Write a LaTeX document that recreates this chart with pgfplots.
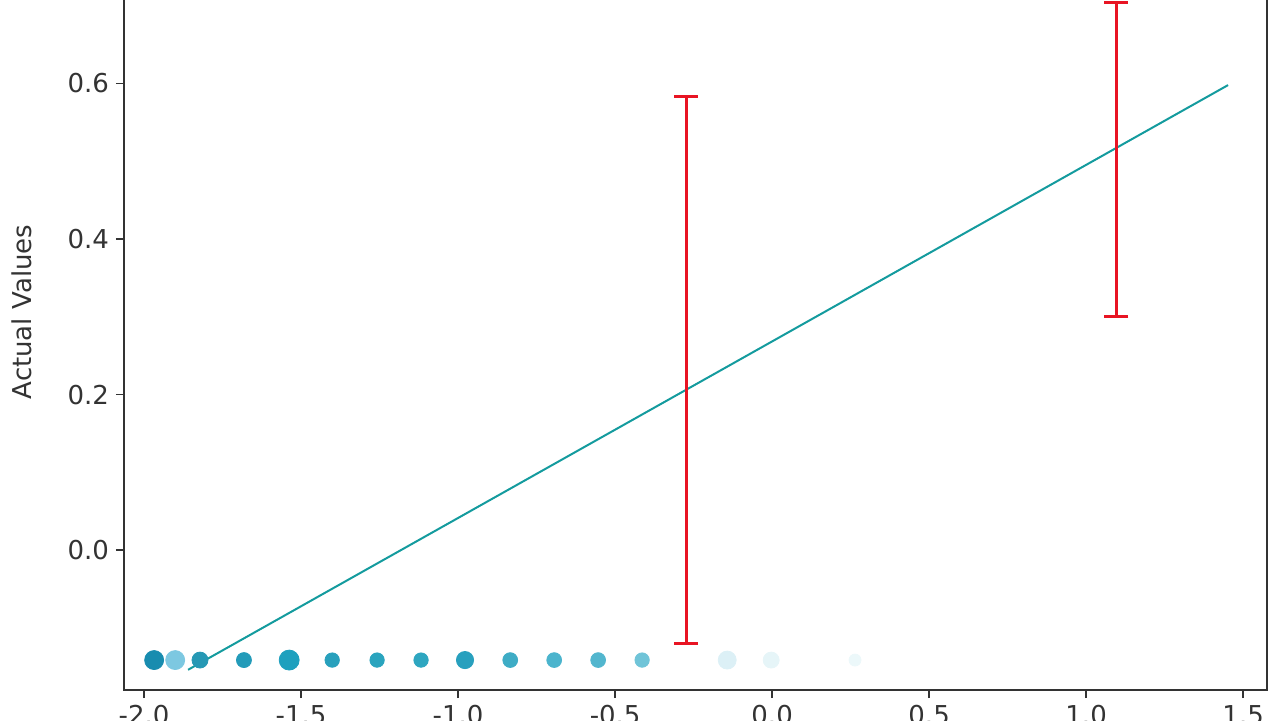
\documentclass[border=0pt]{standalone}
\usepackage{pgfplots}
\pgfplotsset{compat=1.18}
\usepackage{fontspec}
\setmainfont{DejaVu Sans}
\definecolor{axgray}{RGB}{51,51,51}
\definecolor{tealline}{RGB}{20,155,158}
\definecolor{errred}{RGB}{232,20,35}
\definecolor{pa}{RGB}{24,140,175}
\definecolor{pb}{RGB}{125,200,225}
\definecolor{pc}{RGB}{38,152,180}
\definecolor{pd}{RGB}{35,155,185}
\definecolor{pe}{RGB}{30,160,190}
\definecolor{pf}{RGB}{40,160,188}
\definecolor{pg}{RGB}{42,164,190}
\definecolor{ph}{RGB}{46,166,192}
\definecolor{pi}{RGB}{40,160,190}
\definecolor{pj}{RGB}{62,172,197}
\definecolor{pk}{RGB}{75,180,205}
\definecolor{pl}{RGB}{82,182,206}
\definecolor{pm}{RGB}{112,196,216}
\definecolor{pn}{RGB}{220,240,246}
\definecolor{po}{RGB}{230,245,248}
\definecolor{pp}{RGB}{236,248,250}
\pgfplotsset{pt/.style 2 args={only marks, mark=*, mark size=#2, mark options={draw=#1, fill=#1}, forget plot}}
\begin{document}
\begin{tikzpicture}[font=\fontsize{13}{15}\selectfont]
\begin{axis}[
  scale only axis, width=571.5pt, height=378pt,
  xmin=-2.064, xmax=1.576, ymin=-0.180, ymax=0.7923,
  xtick={-2,-1.5,-1,-0.5,0,0.5,1,1.5},
  ytick={0,0.2,0.4,0.6},
  xtick pos=bottom, ytick pos=left,
  tick align=outside, major tick length=4pt,
  axis line style={axgray, line width=0.8pt},
  tick style={axgray, line width=0.8pt},
  ticklabel style={text=axgray},
  /pgf/number format/.cd, fixed, fixed zerofill, precision=1, assume math mode=true,
  /pgfplots/.cd,
  ylabel={Actual Values},
  every axis y label/.style={at={(axis description cs:-0.0892,0.5)}, rotate=90, anchor=center, text=axgray},
  clip=false,
]
\coordinate (SW) at (rel axis cs:0,0);
\addplot[pt={pa}{4.75pt}] coordinates {(-1.968,-0.1415)};
\addplot[pt={pb}{4.75pt}] coordinates {(-1.901,-0.1415)};
\addplot[pt={pc}{4.0pt}] coordinates {(-1.822,-0.1415)};
\addplot[pt={pd}{3.75pt}] coordinates {(-1.682,-0.1415)};
\addplot[pt={pe}{5.0pt}] coordinates {(-1.538,-0.1415)};
\addplot[pt={pf}{3.6pt}] coordinates {(-1.401,-0.1415)};
\addplot[pt={pg}{3.6pt}] coordinates {(-1.258,-0.1415)};
\addplot[pt={ph}{3.6pt}] coordinates {(-1.118,-0.1415)};
\addplot[pt={pi}{4.3pt}] coordinates {(-0.978,-0.1415)};
\addplot[pt={pj}{3.7pt}] coordinates {(-0.834,-0.1415)};
\addplot[pt={pk}{3.7pt}] coordinates {(-0.694,-0.1415)};
\addplot[pt={pl}{3.7pt}] coordinates {(-0.554,-0.1415)};
\addplot[pt={pm}{3.6pt}] coordinates {(-0.414,-0.1415)};
\addplot[pt={pn}{4.5pt}] coordinates {(-0.143,-0.1415)};
\addplot[pt={po}{4.0pt}] coordinates {(-0.003,-0.1415)};
\addplot[pt={pp}{3.0pt}] coordinates {(0.264,-0.1415)};
\addplot[tealline, line width=1pt, mark=none] coordinates {(-1.860,-0.154) (1.452,0.598)};
\addplot[draw=none, mark=none,
  error bars/.cd, y dir=both, y explicit,
  error bar style={draw=errred, line width=1.5pt},
  error mark options={draw=errred, line width=1.5pt, mark size=6pt, rotate=90}]
  coordinates {(-0.274,0.2315) +- (0,0.3515) (1.096,0.502) +- (0,0.202)};
\end{axis}
\pgfresetboundingbox
\path[use as bounding box] ([shift={(-62pt,-15pt)}]SW) rectangle ([shift={(578pt,345pt)}]SW);
\end{tikzpicture}
\end{document}
